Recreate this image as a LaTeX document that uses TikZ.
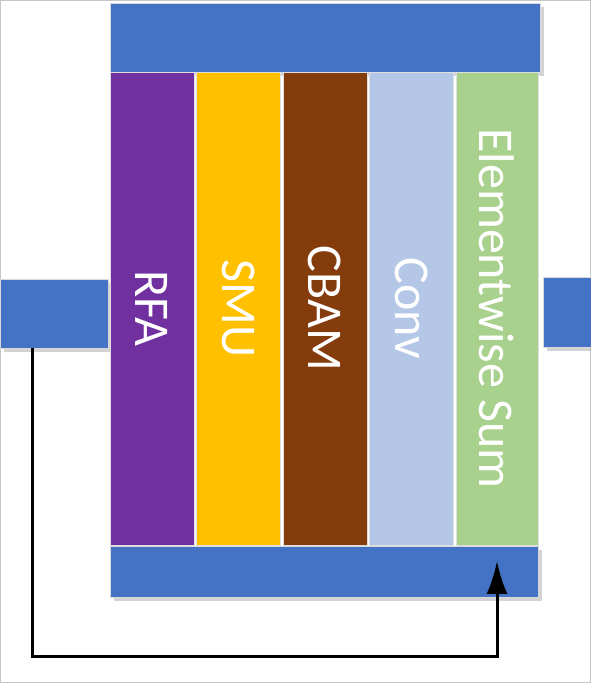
\documentclass[tikz,border=0pt]{standalone}
\usepackage{fontspec}
\setmainfont{Carlito}
\usepackage{tikz}
\usetikzlibrary{arrows.meta,shadows}

\definecolor{barblue}{HTML}{4472C4}
\definecolor{rfapurple}{HTML}{7030A0}
\definecolor{smugold}{HTML}{FFC000}
\definecolor{cbambrown}{HTML}{843C0C}
\definecolor{convblue}{HTML}{B4C7E7}
\definecolor{sumgreen}{HTML}{A9D18E}

\begin{document}
\begin{tikzpicture}[x=1pt,y=1pt]
  \useasboundingbox (0,0) rectangle (591,683);
  % light frame around the picture
  \draw[gray!45,line width=1pt] (0.5,0.5) rectangle (590.5,682.5);

  \tikzstyle{bar} = [draw=white!70!gray, fill=barblue, inner sep=0pt, anchor=south west,
    drop shadow={opacity=0.35, shadow xshift=4pt, shadow yshift=-4pt}]
  \tikzstyle{stage} = [draw=white!75!gray, inner sep=0pt, rotate=-90,
    minimum width=473pt, minimum height=84pt, text=white,
    font=\fontsize{50}{60}\selectfont]

  % blue bars around the block
  \node[bar, minimum width=430pt, minimum height=69pt] (topbar) at (110,611) {};
  \node[bar, minimum width=428pt, minimum height=51pt] (botbar) at (110,86) {};
  \node[bar, minimum width=108pt, minimum height=69pt] (inbar) at (0,335) {};
  \node[bar, minimum width=48pt, minimum height=70pt] (outbar) at (543,336) {};

  % stages, read from top to bottom
  \node[stage, fill=rfapurple] (rfa) at (152,374.5) {RFA};
  \node[stage, fill=smugold] (smu) at (238.5,374.5) {SMU};
  \node[stage, fill=cbambrown] (cbam) at (325,374.5) {CBAM};
  \node[stage, fill=convblue] (conv) at (411.5,374.5) {Conv};
  \node[stage, fill=sumgreen, minimum height=82pt] (sum) at (497,374.5) {Elementwise Sum};

  % skip connection into the sum
  \coordinate (loop) at (32,26);
  \coordinate (tip) at (497,122);
  \draw[line width=3pt, -{Latex[length=33pt,width=21pt]}]
    (inbar.south -| loop) -- (loop) -| (tip);
\end{tikzpicture}
\end{document}
